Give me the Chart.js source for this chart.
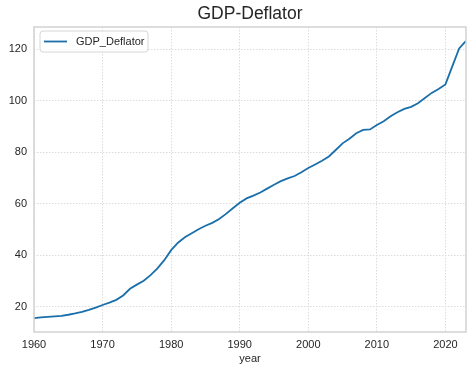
<!DOCTYPE html>
<html>
<head>
<meta charset="utf-8">
<script src="https://cdn.jsdelivr.net/npm/chart.js@4"></script>
<style>
  html, body { margin: 0; padding: 0; background: #fff; }
  #wrap { width: 474px; height: 373px; }
</style>
</head>
<body>
<div id="wrap"><canvas id="chart" width="474" height="373"></canvas></div>
<script>
const years = [
  1960, 1961, 1962, 1963, 1964, 1965, 1966, 1967, 1968, 1969,
  1970, 1971, 1972, 1973, 1974, 1975, 1976, 1977, 1978, 1979,
  1980, 1981, 1982, 1983, 1984, 1985, 1986, 1987, 1988, 1989,
  1990, 1991, 1992, 1993, 1994, 1995, 1996, 1997, 1998, 1999,
  2000, 2001, 2002, 2003, 2004, 2005, 2006, 2007, 2008, 2009,
  2010, 2011, 2012, 2013, 2014, 2015, 2016, 2017, 2018, 2019,
  2020, 2021, 2022, 2023
];
const deflator = [
  15.5, 15.8, 16.0, 16.2, 16.4, 16.8, 17.3, 17.9, 18.7, 19.6,
  20.6, 21.5, 22.6, 24.3, 26.9, 28.5, 30.0, 32.2, 34.8, 38.0,
  41.9, 44.8, 46.9, 48.5, 50.0, 51.4, 52.5, 54.0, 56.0, 58.2,
  60.3, 62.0, 63.1, 64.3, 65.8, 67.3, 68.7, 69.8, 70.7, 72.2,
  73.8, 75.2, 76.6, 78.3, 80.8, 83.4, 85.2, 87.3, 88.6, 88.8,
  90.5, 92.0, 93.9, 95.5, 96.8, 97.6, 99.0, 101.0, 103.0, 104.5,
  106.3, 113.3, 120.3, 123.2
];
const xTicks = [1960, 1970, 1980, 1990, 2000, 2010, 2020];
const yTicks = [20, 40, 60, 80, 100, 120];

const font = '"Liberation Sans", Arial, sans-serif';
const ink = '#262626';
const lineColor = '#1a6fab';

// spines on all four sides plus the framed legend in the upper left
const frame = {
  id: 'frame',
  afterDraw(chart) {
    const { ctx, chartArea: a } = chart;
    ctx.save();
    ctx.strokeStyle = '#d2d2d2';
    ctx.lineWidth = 1.5;
    ctx.strokeRect(a.left, a.top, a.right - a.left, a.bottom - a.top);

    const ds = chart.data.datasets[0];
    const x = a.left + 6, y = a.top + 4, w = 108, h = 21;
    ctx.beginPath();
    ctx.roundRect(x, y, w, h, 3);
    ctx.fillStyle = 'rgba(255,255,255,0.8)';
    ctx.fill();
    ctx.strokeStyle = '#d6d6d6';
    ctx.lineWidth = 1;
    ctx.stroke();

    ctx.beginPath();
    ctx.moveTo(x + 4, y + h / 2);
    ctx.lineTo(x + 27, y + h / 2);
    ctx.strokeStyle = ds.borderColor;
    ctx.lineWidth = 1.8;
    ctx.stroke();

    ctx.fillStyle = ink;
    ctx.font = '11px ' + font;
    ctx.textBaseline = 'middle';
    ctx.textAlign = 'left';
    ctx.fillText(ds.label, x + 36, y + h / 2 + 0.5);
    ctx.restore();
  }
};

new Chart(document.getElementById('chart'), {
  type: 'line',
  data: {
    datasets: [{
      label: 'GDP_Deflator',
      data: years.map((yr, i) => ({ x: yr, y: deflator[i] })),
      borderColor: lineColor,
      borderWidth: 1.8,
      pointRadius: 0,
      tension: 0,
      fill: false,
    }],
  },
  options: {
    responsive: false,
    animation: false,
    layout: { padding: { left: 0, right: 8, top: 0, bottom: 0 } },
    plugins: {
      legend: { display: false },
      tooltip: { enabled: false },
      title: {
        display: true,
        text: 'GDP-Deflator',
        fullSize: false,
        color: ink,
        font: { family: font, size: 17.5, weight: 'normal' },
        padding: { top: 4, bottom: 2 },
      },
    },
    scales: {
      x: {
        type: 'linear',
        min: 1960,
        max: 2023,
        afterBuildTicks: (s) => { s.ticks = xTicks.map((v) => ({ value: v })); },
        afterFit: (s) => { s.height = 41; },
        ticks: {
          color: ink,
          font: { family: font, size: 11 },
          padding: 6,
          maxRotation: 0,
          callback: (v) => String(v),
        },
        grid: { color: '#dcdcdc', lineWidth: 1, drawTicks: false },
        border: { display: false, dash: [1.5, 1.5] },
        title: {
          display: true,
          text: 'year',
          color: ink,
          font: { family: font, size: 11 },
          padding: { top: 0, bottom: 7 },
        },
      },
      y: {
        type: 'linear',
        min: 10.1,
        max: 128.6,
        afterBuildTicks: (s) => { s.ticks = yTicks.map((v) => ({ value: v })); },
        afterFit: (s) => { s.width = 34; },
        ticks: {
          color: ink,
          font: { family: font, size: 11 },
          padding: 7,
        },
        grid: { color: '#dcdcdc', lineWidth: 1, drawTicks: false },
        border: { display: false, dash: [1.5, 1.5] },
      },
    },
  },
  plugins: [frame],
});
</script>
</body>
</html>
